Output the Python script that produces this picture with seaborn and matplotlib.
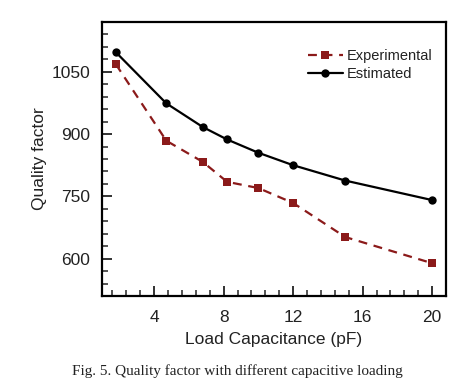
import matplotlib
matplotlib.use("Agg")
import matplotlib.pyplot as plt
import seaborn as sns
import pandas as pd
from matplotlib.ticker import MultipleLocator

# Data
capacitance = [1.8, 4.7, 6.8, 8.2, 10, 12, 15, 20]
experimental = [1068, 884, 833, 785, 770, 734, 652, 589]
estimated = [1097, 974, 917, 887, 855, 825, 788, 741]
series_names = ["Experimental", "Estimated"]
x_ticks = [4, 8, 12, 16, 20]
y_ticks = [600, 750, 900, 1050]

df = pd.DataFrame({
    "C": capacitance * 2,
    "Q": experimental + estimated,
    "series": [series_names[0]] * len(capacitance) + [series_names[1]] * len(capacitance),
})

sns.set_style("ticks")
plt.rcParams["font.family"] = ["Liberation Sans", "DejaVu Sans"]

fig = plt.figure(figsize=(4.74, 3.79), dpi=100)
ax = fig.add_axes([0.2152, 0.219, 0.7258, 0.723])

red = "#8b1a1a"
sns.lineplot(data=df, x="C", y="Q", hue="series", style="series",
             hue_order=series_names, style_order=series_names,
             palette={"Experimental": red, "Estimated": "black"},
             dashes={"Experimental": (4, 3), "Estimated": ""},
             markers={"Experimental": "s", "Estimated": "o"},
             markersize=6, markeredgewidth=0, linewidth=1.6,
             ax=ax)

ax.set_xlim(1.0, 20.8)
ax.set_ylim(510, 1170)
ax.set_xticks(x_ticks)
ax.set_yticks(y_ticks)
ax.xaxis.set_minor_locator(MultipleLocator(0.8))
ax.yaxis.set_minor_locator(MultipleLocator(30))
ax.tick_params(axis="both", which="major", direction="in", length=7, width=1.3,
               labelsize=12.5, colors="#222222", top=False, right=False)
ax.tick_params(axis="x", which="major", pad=10)
ax.tick_params(axis="y", which="major", pad=8.5)
ax.tick_params(axis="both", which="minor", direction="in", length=4, width=1.1,
               top=False, right=False)
for s in ax.spines.values():
    s.set_visible(True)
    s.set_linewidth(1.6)
    s.set_color("black")

ax.set_xlabel("Load Capacitance (pF)", fontsize=12.5, color="#222222", labelpad=5)
ax.set_ylabel("Quality factor", fontsize=12.5, color="#222222", labelpad=3)

leg = ax.legend(loc="upper right", frameon=False, fontsize=10.5,
                handlelength=2.4, handletextpad=0.3, labelspacing=0.3,
                bbox_to_anchor=(1.0, 0.95))
for t in leg.get_texts():
    t.set_color("#222222")

fig.text(0.5, 1 - 378 / 379, "Fig. 5. Quality factor with different capacitive loading",
         ha="center", va="bottom", fontsize=11, family=["Liberation Serif", "DejaVu Serif"],
         color="#222222")

fig.savefig("out.png", dpi=100)
